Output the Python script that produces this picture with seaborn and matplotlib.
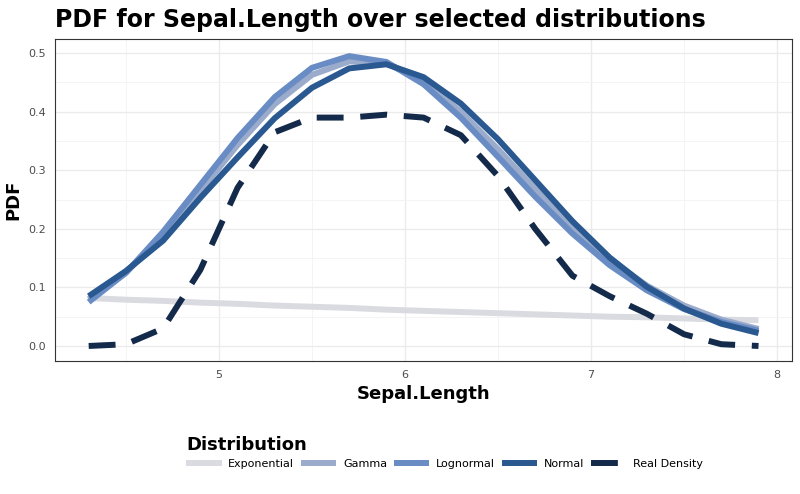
import pandas as pd
import matplotlib.pyplot as plt
import seaborn as sns

# values
x_vals = [4.3, 4.5, 4.7, 4.9, 5.1, 5.3, 5.5, 5.7, 5.9, 6.1, 6.3, 6.5, 6.7, 6.9, 7.1, 7.3, 7.5, 7.7, 7.9]
exponential = [0.082, 0.079, 0.077, 0.074, 0.072, 0.069, 0.067, 0.065, 0.062, 0.060, 0.058, 0.056, 0.054, 0.052, 0.050, 0.049, 0.047, 0.045, 0.044]
gamma = [0.080, 0.125, 0.190, 0.265, 0.343, 0.413, 0.463, 0.486, 0.483, 0.452, 0.400, 0.336, 0.268, 0.204, 0.148, 0.103, 0.069, 0.045, 0.029]
lognormal = [0.075, 0.125, 0.195, 0.275, 0.355, 0.425, 0.475, 0.495, 0.485, 0.447, 0.390, 0.323, 0.255, 0.192, 0.138, 0.095, 0.063, 0.041, 0.026]
normal = [0.085, 0.128, 0.180, 0.253, 0.322, 0.389, 0.441, 0.474, 0.481, 0.459, 0.414, 0.353, 0.283, 0.213, 0.151, 0.101, 0.064, 0.038, 0.022]
real_density = [0.0, 0.003, 0.030, 0.130, 0.270, 0.365, 0.390, 0.390, 0.395, 0.390, 0.360, 0.290, 0.200, 0.120, 0.085, 0.055, 0.020, 0.003, 0.0]

names = ["Exponential", "Gamma", "Lognormal", "Normal", "Real Density"]
series = [exponential, gamma, lognormal, normal, real_density]
colors = ["#d9dbe0", "#9aabcb", "#6a8cc4", "#2a5890", "#142a4a"]

rows = []
for name, ys in zip(names, series):
    for x, y in zip(x_vals, ys):
        rows.append({"Sepal.Length": x, "PDF": y, "Distribution": name})
df = pd.DataFrame(rows)

sns.set_style("whitegrid")
plt.rcParams["text.color"] = "black"
plt.rcParams["axes.labelcolor"] = "black"
fig = plt.figure(figsize=(8, 4.94), dpi=100)
ax = fig.add_axes([0.069, 0.27, 0.921, 0.652])

sns.lineplot(data=df, x="Sepal.Length", y="PDF", hue="Distribution", style="Distribution",
             palette=dict(zip(names, colors)),
             dashes={"Exponential": "", "Gamma": "", "Lognormal": "", "Normal": "", "Real Density": (4.5, 2.8)},
             linewidth=4.3, ax=ax, legend=True)
for line in ax.lines:
    line.set_dash_capstyle("butt")
    line.set_solid_capstyle("butt")
    line.set_solid_joinstyle("round")

ax.set_xlim(4.12, 8.08)
ax.set_ylim(-0.025, 0.525)
ax.set_xticks([5, 6, 7, 8])
ax.set_yticks([0.0, 0.1, 0.2, 0.3, 0.4, 0.5])
ax.set_xticks([4.5, 5.5, 6.5, 7.5], minor=True)
ax.set_yticks([0.05, 0.15, 0.25, 0.35, 0.45], minor=True)
ax.grid(which="major", color="#ebebeb", linewidth=1)
ax.grid(which="minor", color="#f3f3f3", linewidth=0.6)
ax.tick_params(which="major", length=3, color="#333333", labelsize=8, labelcolor="#4d4d4d")
ax.tick_params(which="minor", length=0)
for s in ax.spines.values():
    s.set_color("#333333")
    s.set_linewidth(0.8)
ax.set_xlabel("Sepal.Length", fontsize=13, fontweight="bold", color="black")
ax.set_ylabel("PDF", fontsize=13, fontweight="bold", color="black")

handles, labels = ax.get_legend_handles_labels()
ax.legend_.remove()
leg = fig.legend(handles, labels, loc="lower left", bbox_to_anchor=(0.22, 0.03), ncol=5,
                 frameon=False, fontsize=8, handlelength=3.2, columnspacing=0.6,
                 handletextpad=0.6, title="Distribution")
leg.get_title().set_fontsize(13)
leg.get_title().set_fontweight("bold")
leg.get_title().set_color("black")
leg._legend_box.align = "left"

fig.text(0.069, 0.96, "PDF for Sepal.Length over selected distributions",
         fontsize=17, fontweight="bold", va="center", color="black")

fig.savefig("out.png", dpi=100)
